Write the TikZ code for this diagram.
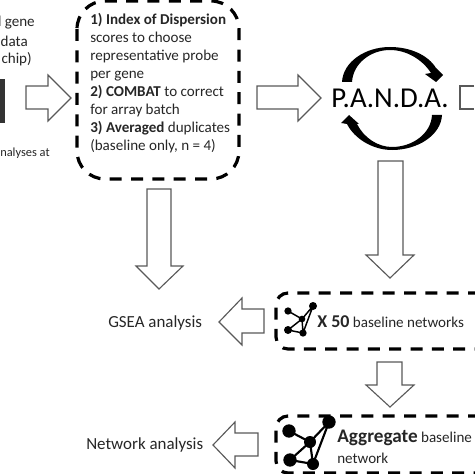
\documentclass[tikz,border=0pt]{standalone}
\usepackage{fontspec}
\setmainfont{Carlito}
\tikzset{
 px/.style={x=0.75pt,y=-0.75pt},
 hollow/.style={draw=black!65,line width=0.85pt,fill=white,line join=miter},
 dashbox/.style={draw=black,line width=2.4pt,dash pattern=on 9pt off 7pt,rounded corners=21pt},
 sidebox/.style={draw=black,line width=2.4pt,dash pattern=on 9pt off 7pt,rounded corners=9pt},
 lbl/.style={inner sep=0pt,anchor=west,text=black!85,font=\fontsize{11.3pt}{13.5pt}\selectfont,align=left},
 biglbl/.style={lbl,font=\fontsize{12.7pt}{15pt}\selectfont},
 net/.style={draw=black,line width=1.1pt},
 dot/.style={circle,fill=black,inner sep=0pt,minimum size=#1},
}
\begin{document}
\begin{tikzpicture}[px]
\useasboundingbox (0,0) rectangle (474,474);
% top-left clipped text
\node[lbl,anchor=east] (t1) at (35,23) {d gene};
\node[lbl,anchor=east] (t2) at (28,41) {data};
\node[lbl,anchor=east] (t3) at (32,59) {chip)};
\node[lbl,anchor=east,font=\fontsize{9.3pt}{10pt}\selectfont] (t4) at (50,153) {nalyses at};
\fill[black!80] (0,79) rectangle (5,123);
% main box
\draw[dashbox] (77,1) rectangle (239,179);
\node[lbl,anchor=north west] (main) at (90,13) {\textbf{1) Index of Dispersion}\\scores to choose\\representative probe\\per gene\\\textbf{2) COMBAT} to correct\\for array batch\\\textbf{3) Averaged} duplicates\\(baseline only, n = 4)};
% hollow arrows
\draw[hollow] (26,86) -- (48,86) -- (48,75) -- (71,98) -- (48,121) -- (48,109) -- (26,109) -- cycle;
\draw[hollow] (257,86) -- (298,86) -- (298,75) -- (321,98) -- (298,121) -- (298,109) -- (257,109) -- cycle;
\draw[hollow] (147,189) -- (171,189) -- (171,266) -- (183,266) -- (159,289) -- (136,266) -- (147,266) -- cycle;
\draw[hollow] (378,161) -- (403,161) -- (403,255) -- (414,255) -- (390,278) -- (366,255) -- (378,255) -- cycle;
\draw[hollow] (264,309) -- (242,309) -- (242,298) -- (219,322) -- (242,345) -- (242,333) -- (264,333) -- cycle;
\draw[hollow] (258,433) -- (235,433) -- (235,422) -- (213,445) -- (235,468) -- (235,456) -- (258,456) -- cycle;
\draw[hollow] (377,362) -- (402,362) -- (402,385) -- (414,385) -- (390,407) -- (366,385) -- (377,385) -- cycle;
\draw[hollow] (474,86) -- (460,86) -- (460,109) -- (474,109);
% PANDA
\node[inner sep=0pt,text=black,font=\fontsize{21.6pt}{22pt}\selectfont] (panda) at (390,98) {P.A.N.D.A.};
\fill[black] (342,82) .. controls (343,62) and (365,47) .. (390,47) .. controls (410,47) and (428,55) .. (436,68) -- (443,75) -- (436,82) -- (425,74) -- (431,73) .. controls (422,59) and (406,50) .. (390,50) .. controls (370,50) and (353,64) .. (352,82) -- cycle;
\fill[black] (442,115) .. controls (441,135) and (418,150) .. (392,150) .. controls (372,150) and (354,138) .. (347,124) -- (341,123) -- (349,115) -- (359,124) -- (357,124) .. controls (364,138) and (378,147) .. (392,147) .. controls (412,147) and (431,134) .. (432,115) -- cycle;
% GSEA, Network
\node[biglbl] (gsea) at (108,323) {GSEA analysis};
\node[biglbl] (netan) at (86,445) {Network analysis};
% baseline box
\draw[sidebox] (480,293) -- (276,293) -- (276,349) -- (480,349);
\draw[net] (288,311) -- (302,319) -- (313,306) -- (303,333) -- (288,330) -- (302,319) -- (303,333);
\node[dot=5.5pt] (a1) at (288,311) {};
\node[dot=5pt] (a2) at (302,319) {};
\node[dot=6pt] (a3) at (313,306) {};
\node[dot=6pt] (a4) at (288,330) {};
\node[dot=5.5pt] (a5) at (303,333) {};
\node[lbl] (x50) at (317,322) {\textbf{\fontsize{13.5pt}{14pt}\selectfont X 50} baseline networks};
% aggregate box
\draw[sidebox] (480,416) -- (276,416) -- (276,473) -- (480,473);
\draw[net,line width=1.6pt] (289,431) -- (310,442) -- (329,422) -- (313,464) -- (290,460) -- (310,442) -- (313,464);
\node[dot=10pt] (b1) at (289,431) {};
\node[dot=9pt] (b2) at (310,442) {};
\node[dot=10pt] (b3) at (329,422) {};
\node[dot=10pt] (b4) at (290,460) {};
\node[dot=9pt] (b5) at (313,464) {};
\node[lbl] (agg) at (337,438) {\textbf{\fontsize{14.4pt}{15pt}\selectfont Aggregate} baseline};
\node[lbl] (agg2) at (337,458) {network};
\end{tikzpicture}
\end{document}
